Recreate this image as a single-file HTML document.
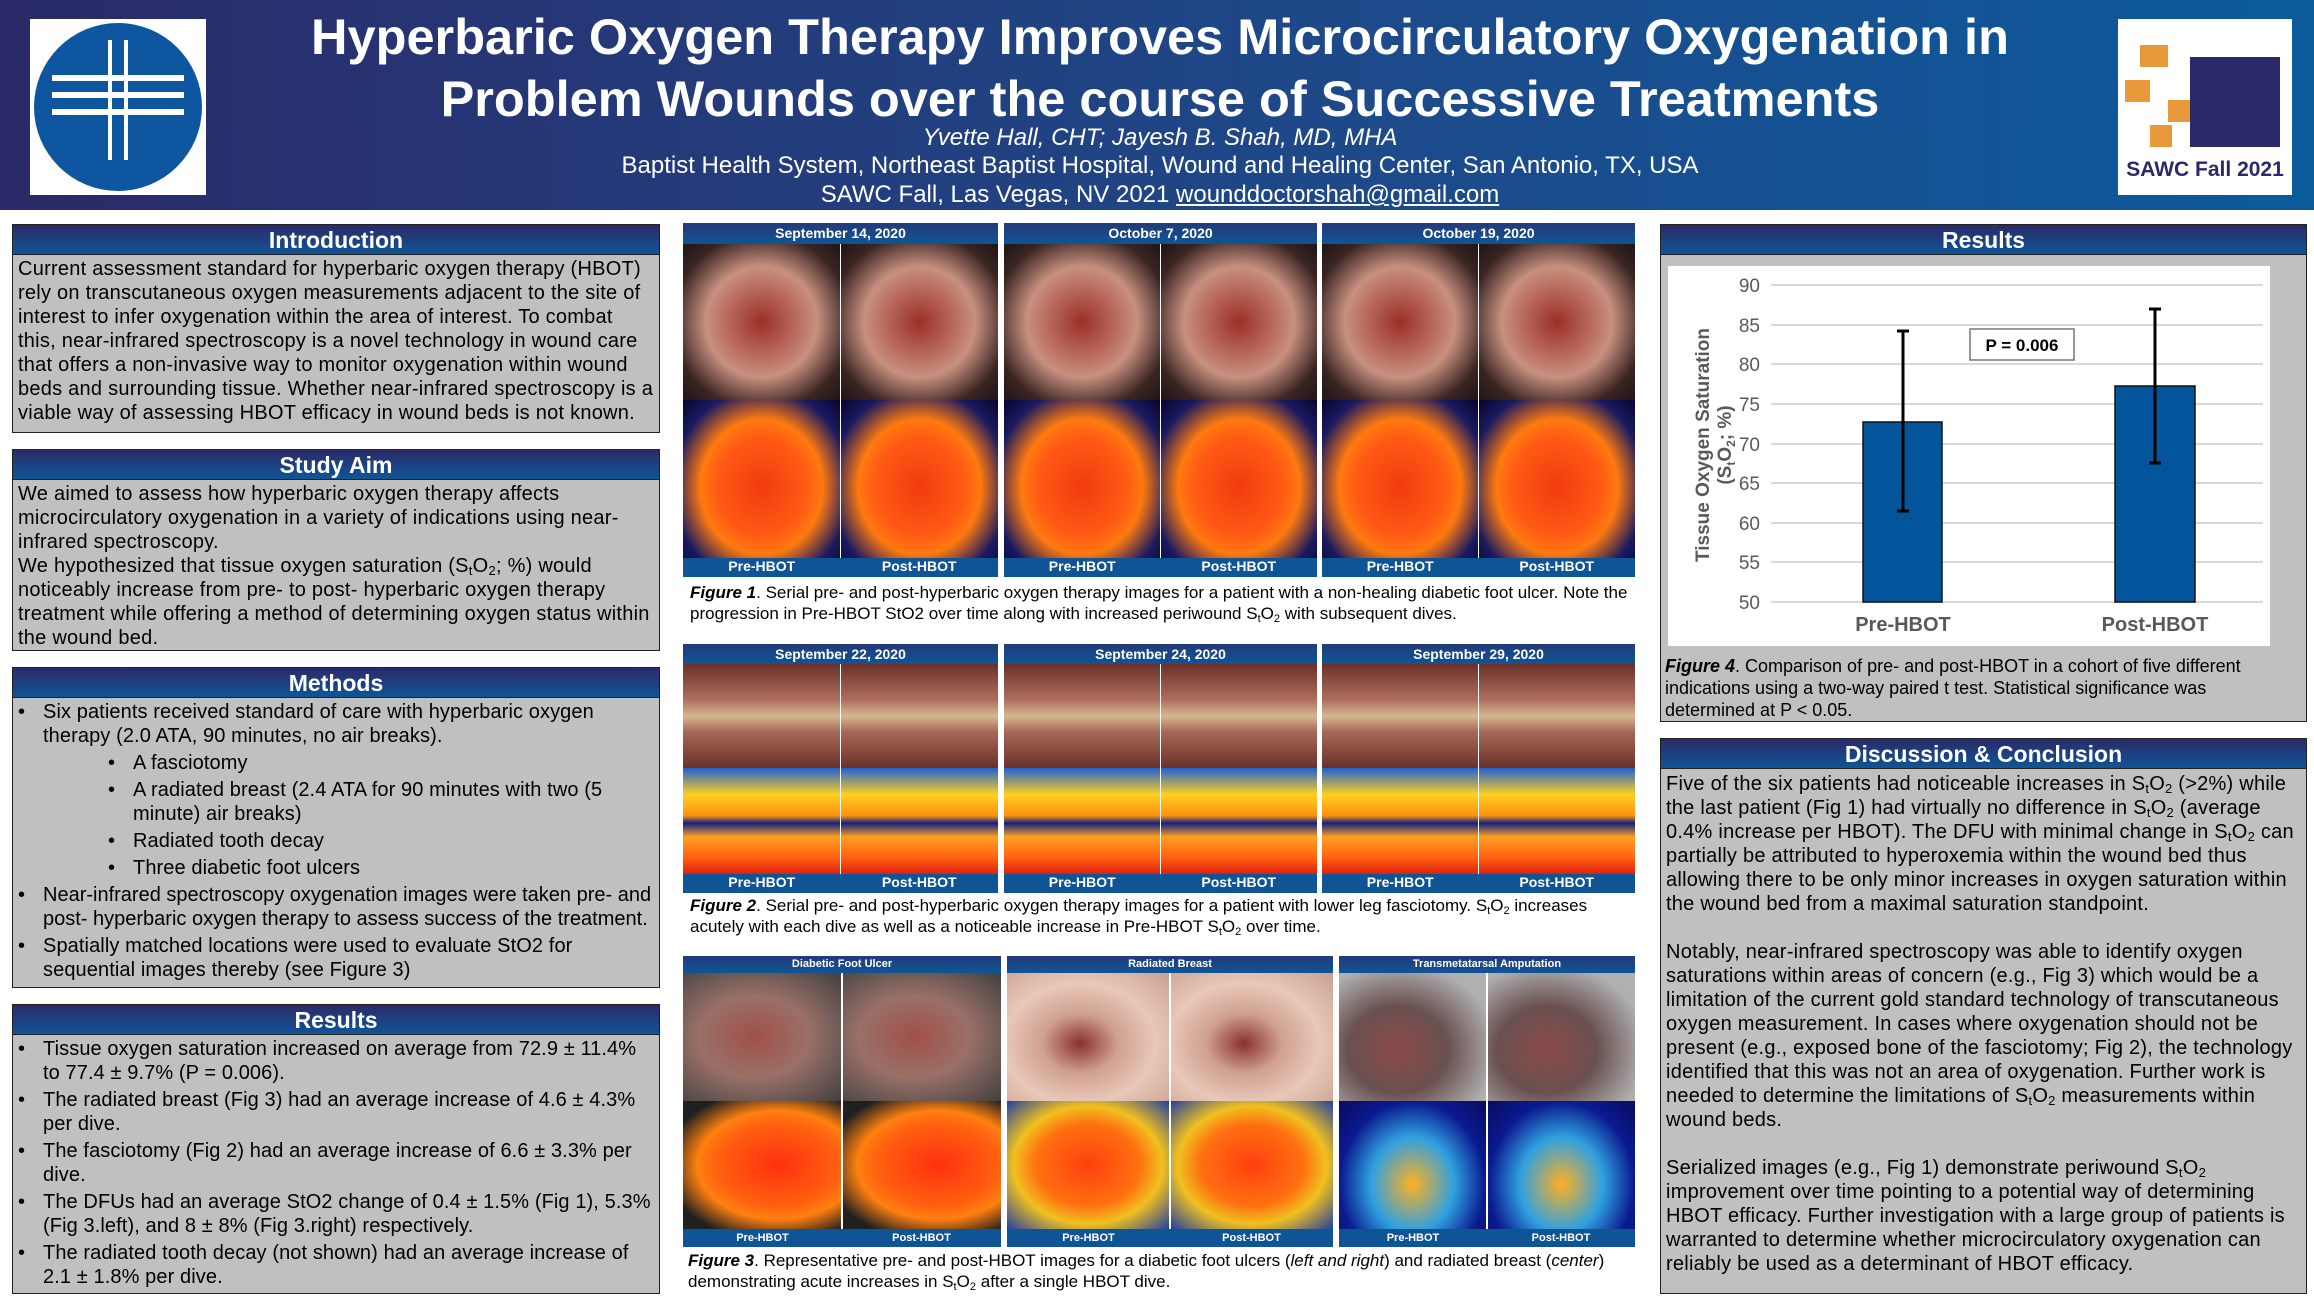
<!DOCTYPE html>
<html><head><meta charset="utf-8">
<style>
*{margin:0;padding:0;box-sizing:border-box}
body{width:2314px;height:1302px;position:relative;background:#fff;font-family:"Liberation Sans",Arial,sans-serif;overflow:hidden;color:#000}
.abs{position:absolute}
.hdr{position:absolute;left:0;top:0;width:2314px;height:210px;background:linear-gradient(90deg,#2b2a68 0%,#1d4a8a 60%,#0b5a9c 100%)}
.title{position:absolute;left:250px;width:1820px;top:6px;text-align:center;color:#fff;font-weight:bold;font-size:50.5px;line-height:62px}
.sub{position:absolute;left:260px;width:1800px;text-align:center;color:#fff;font-size:24px;line-height:27px}
.panel{position:absolute;background:#c0c0c0;border:1.5px solid #222}
.ph{height:30px;background:linear-gradient(180deg,#2b2a68,#0f5596);color:#fff;font-weight:bold;font-size:23px;text-align:center;line-height:30px;border-bottom:1.5px solid #222}
.pb{font-size:20px;line-height:24px;padding:2px 5px;letter-spacing:0.25px}
ul{list-style:none;letter-spacing:0.1px}
li{position:relative;padding-left:30px}
li:before{content:"•";position:absolute;left:5px}
li.s{padding-left:120px}
li.s:before{left:95px}
.cap{position:absolute;font-size:17px;line-height:21px}
.dh{position:absolute;background:linear-gradient(180deg,#233a78,#0f5596);color:#fff;font-weight:bold;font-size:14px;text-align:center}
.lb{position:absolute;background:#0f5596;color:#fff;font-weight:bold;font-size:14px;display:flex}
.lb span{flex:1;text-align:center}
.ph1{position:absolute;background:radial-gradient(ellipse at 50% 50%,#9a3028 0%,#b8685a 30%,#c89080 50%,#3a2422 80%,#1e1616 100%)}
.ht1{position:absolute;background:radial-gradient(ellipse at 50% 55%,#f23a10 0%,#ff5a14 40%,#ff7a10 55%,#1a1a60 80%,#050530 100%)}
.ph2{position:absolute;background:linear-gradient(180deg,#6a3028 0%,#b07060 35%,#d4b890 50%,#a86858 65%,#6a3028 100%)}
.ht2{position:absolute;background:linear-gradient(180deg,#2060d0 0%,#ffd020 25%,#ff9010 45%,#102080 52%,#ffa020 65%,#ff6010 85%,#e02010 100%)}
.ph3{position:absolute;background:radial-gradient(ellipse at 45% 50%,#a05048 0%,#9a7068 45%,#404040 100%)}
.ht3{position:absolute;background:radial-gradient(ellipse at 50% 50%,#ff4010 0%,#ff7010 45%,#f0c020 65%,#2040a0 100%)}
sub{font-size:65%;vertical-align:-3px;line-height:0}
</style></head><body>
<div class="hdr"></div>
<div class="abs" style="left:30px;top:19px;width:176px;height:176px;background:#fff"></div>
<div class="abs" style="left:34px;top:23px;width:168px;height:168px;border-radius:50%;background:#0e57a0"></div>
<div class="abs" style="left:108px;top:40px;width:20px;height:120px;border-left:4px solid #fff;border-right:4px solid #fff"></div>
<div class="abs" style="left:52px;top:75px;width:132px;height:40px;border-top:6px solid #fff;border-bottom:6px solid #fff"></div>
<div class="abs" style="left:52px;top:92px;width:132px;height:6px;background:#fff"></div>
<div class="abs" style="left:2118px;top:19px;width:174px;height:176px;background:#fff"></div>
<div class="abs" style="left:2190px;top:57px;width:90px;height:90px;background:#2b2a68"></div>
<div class="abs" style="left:2140px;top:45px;width:28px;height:22px;background:#e8993a"></div>
<div class="abs" style="left:2125px;top:80px;width:25px;height:22px;background:#e8993a"></div>
<div class="abs" style="left:2168px;top:100px;width:22px;height:22px;background:#e8993a"></div>
<div class="abs" style="left:2150px;top:125px;width:22px;height:22px;background:#e8993a"></div>
<div class="abs" style="left:2118px;top:158px;width:174px;text-align:center;font-weight:bold;font-size:21px;color:#2b2a68">SAWC Fall 2021</div>
<div class="title">Hyperbaric Oxygen Therapy Improves Microcirculatory Oxygenation in<br>Problem Wounds over the course of Successive Treatments</div>
<div class="sub" style="top:124px;font-style:italic">Yvette Hall, CHT; Jayesh B. Shah, MD, MHA</div>
<div class="sub" style="top:152px">Baptist Health System, Northeast Baptist Hospital, Wound and Healing Center, San Antonio, TX, USA</div>
<div class="sub" style="top:181px">SAWC Fall, Las Vegas, NV 2021 <u>wounddoctorshah@gmail.com</u></div>

<div class="panel" style="left:12px;top:224px;width:648px;height:209px"><div class="ph">Introduction</div><div class="pb">Current assessment standard for hyperbaric oxygen therapy (HBOT) rely on transcutaneous oxygen measurements adjacent to the site of interest to infer oxygenation within the area of interest. To combat this, near-infrared spectroscopy is a novel technology in wound care that offers a non-invasive way to monitor oxygenation within wound beds and surrounding tissue. Whether near-infrared spectroscopy is a viable way of assessing HBOT efficacy in wound beds is not known.</div></div>
<div class="panel" style="left:12px;top:449px;width:648px;height:202px"><div class="ph">Study Aim</div><div class="pb">We aimed to assess how hyperbaric oxygen therapy affects microcirculatory oxygenation in a variety of indications using near-infrared spectroscopy.<br>We hypothesized that tissue oxygen saturation (S<sub>t</sub>O<sub>2</sub>; %) would noticeably increase from pre- to post- hyperbaric oxygen therapy treatment while offering a method of determining oxygen status within the wound bed.</div></div>
<div class="panel" style="left:12px;top:667px;width:648px;height:321px"><div class="ph">Methods</div><div class="pb" style="padding-left:0"><ul>
<li>Six patients received standard of care with hyperbaric oxygen therapy (2.0 ATA, 90 minutes, no air breaks).</li>
<li class="s" style="margin-top:3px">A fasciotomy</li>
<li class="s" style="margin-top:3px">A radiated breast (2.4 ATA for 90 minutes with two (5 minute) air breaks)</li>
<li class="s" style="margin-top:3px">Radiated tooth decay</li>
<li class="s" style="margin-top:3px">Three diabetic foot ulcers</li>
<li style="margin-top:3px;letter-spacing:0">Near-infrared spectroscopy oxygenation images were taken pre- and post- hyperbaric oxygen therapy to assess success of the treatment.</li>
<li style="margin-top:3px">Spatially matched locations were used to evaluate StO2 for sequential images thereby (see Figure 3)</li></ul></div></div>
<div class="panel" style="left:12px;top:1004px;width:648px;height:290px"><div class="ph">Results</div><div class="pb" style="padding-left:0"><ul>
<li>Tissue oxygen saturation increased on average from 72.9 ± 11.4% to 77.4 ± 9.7% (P = 0.006).</li>
<li style="margin-top:3px">The radiated breast (Fig 3) had an average increase of 4.6 ± 4.3% per dive.</li>
<li style="margin-top:3px">The fasciotomy (Fig 2) had an average increase of 6.6 ± 3.3% per dive.</li>
<li style="margin-top:3px">The DFUs had an average StO2 change of 0.4 ± 1.5% (Fig 1), 5.3% (Fig 3.left), and 8 ± 8% (Fig 3.right) respectively.</li>
<li style="margin-top:3px">The radiated tooth decay (not shown) had an average increase of 2.1 ± 1.8% per dive.</li></ul></div></div>

<!-- Figure 1 -->
<div class="dh" style="left:683px;top:223px;width:315px;height:21px;line-height:21px">September 14, 2020</div>
<div class="dh" style="left:1004px;top:223px;width:313px;height:21px;line-height:21px">October 7, 2020</div>
<div class="dh" style="left:1322px;top:223px;width:313px;height:21px;line-height:21px">October 19, 2020</div>
<div class="ph1" style="left:683px;top:244px;width:157px;height:156px"></div><div class="ph1" style="left:841px;top:244px;width:157px;height:156px"></div>
<div class="ph1" style="left:1004px;top:244px;width:156px;height:156px"></div><div class="ph1" style="left:1161px;top:244px;width:156px;height:156px"></div>
<div class="ph1" style="left:1322px;top:244px;width:156px;height:156px"></div><div class="ph1" style="left:1479px;top:244px;width:156px;height:156px"></div>
<div class="ht1" style="left:683px;top:400px;width:157px;height:158px"></div><div class="ht1" style="left:841px;top:400px;width:157px;height:158px"></div>
<div class="ht1" style="left:1004px;top:400px;width:156px;height:158px"></div><div class="ht1" style="left:1161px;top:400px;width:156px;height:158px"></div>
<div class="ht1" style="left:1322px;top:400px;width:156px;height:158px"></div><div class="ht1" style="left:1479px;top:400px;width:156px;height:158px"></div>
<div class="lb" style="left:683px;top:558px;width:315px;height:19px"><span>Pre-HBOT</span><span>Post-HBOT</span></div>
<div class="lb" style="left:1004px;top:558px;width:313px;height:19px"><span>Pre-HBOT</span><span>Post-HBOT</span></div>
<div class="lb" style="left:1322px;top:558px;width:313px;height:19px"><span>Pre-HBOT</span><span>Post-HBOT</span></div>
<div class="cap" style="left:690px;top:582px;width:940px"><b><i>Figure 1</i></b>. Serial pre- and post-hyperbaric oxygen therapy images for a patient with a non-healing diabetic foot ulcer. Note the progression in Pre-HBOT StO2 over time along with increased periwound S<sub>t</sub>O<sub>2</sub> with subsequent dives.</div>

<!-- Figure 2 -->
<div class="dh" style="left:683px;top:644px;width:315px;height:20px;line-height:20px">September 22, 2020</div>
<div class="dh" style="left:1004px;top:644px;width:313px;height:20px;line-height:20px">September 24, 2020</div>
<div class="dh" style="left:1322px;top:644px;width:313px;height:20px;line-height:20px">September 29, 2020</div>
<div class="ph2" style="left:683px;top:664px;width:157px;height:104px"></div><div class="ph2" style="left:841px;top:664px;width:157px;height:104px"></div>
<div class="ph2" style="left:1004px;top:664px;width:156px;height:104px"></div><div class="ph2" style="left:1161px;top:664px;width:156px;height:104px"></div>
<div class="ph2" style="left:1322px;top:664px;width:156px;height:104px"></div><div class="ph2" style="left:1479px;top:664px;width:156px;height:104px"></div>
<div class="ht2" style="left:683px;top:768px;width:157px;height:106px"></div><div class="ht2" style="left:841px;top:768px;width:157px;height:106px"></div>
<div class="ht2" style="left:1004px;top:768px;width:156px;height:106px"></div><div class="ht2" style="left:1161px;top:768px;width:156px;height:106px"></div>
<div class="ht2" style="left:1322px;top:768px;width:156px;height:106px"></div><div class="ht2" style="left:1479px;top:768px;width:156px;height:106px"></div>
<div class="lb" style="left:683px;top:874px;width:315px;height:19px"><span>Pre-HBOT</span><span>Post-HBOT</span></div>
<div class="lb" style="left:1004px;top:874px;width:313px;height:19px"><span>Pre-HBOT</span><span>Post-HBOT</span></div>
<div class="lb" style="left:1322px;top:874px;width:313px;height:19px"><span>Pre-HBOT</span><span>Post-HBOT</span></div>
<div class="cap" style="left:690px;top:895px;width:940px"><b><i>Figure 2</i></b>. Serial pre- and post-hyperbaric oxygen therapy images for a patient with lower leg fasciotomy. S<sub>t</sub>O<sub>2</sub> increases acutely with each dive as well as a noticeable increase in Pre-HBOT S<sub>t</sub>O<sub>2</sub> over time.</div>

<!-- Figure 3 -->
<div class="dh" style="left:683px;top:956px;width:318px;height:17px;line-height:17px;font-size:11px">Diabetic Foot Ulcer</div>
<div class="dh" style="left:1007px;top:956px;width:326px;height:17px;line-height:17px;font-size:11px">Radiated Breast</div>
<div class="dh" style="left:1339px;top:956px;width:296px;height:17px;line-height:17px;font-size:11px">Transmetatarsal Amputation</div>
<div class="ph3" style="left:683px;top:973px;width:158px;height:128px"></div><div class="ph3" style="left:843px;top:973px;width:158px;height:128px"></div>
<div class="ph3" style="left:1007px;top:973px;width:162px;height:128px;background:radial-gradient(ellipse at 45% 55%,#8a3030 0%,#d0a090 30%,#e8c8b8 60%,#c8a090 100%)"></div><div class="ph3" style="left:1171px;top:973px;width:162px;height:128px;background:radial-gradient(ellipse at 45% 55%,#8a3030 0%,#d0a090 30%,#e8c8b8 60%,#c8a090 100%)"></div>
<div class="ph3" style="left:1339px;top:973px;width:147px;height:128px;background:radial-gradient(ellipse at 40% 60%,#8a4a48 0%,#6a5050 40%,#b0b0b0 80%)"></div><div class="ph3" style="left:1488px;top:973px;width:147px;height:128px;background:radial-gradient(ellipse at 40% 60%,#8a4a48 0%,#6a5050 40%,#b0b0b0 80%)"></div>
<div class="ht1" style="left:683px;top:1101px;width:158px;height:128px;background:radial-gradient(ellipse at 60% 50%,#ff3010 0%,#ff6010 45%,#ff8010 60%,#202020 85%)"></div><div class="ht1" style="left:843px;top:1101px;width:158px;height:128px;background:radial-gradient(ellipse at 60% 50%,#ff3010 0%,#ff6010 45%,#ff8010 60%,#202020 85%)"></div>
<div class="ht3" style="left:1007px;top:1101px;width:162px;height:128px"></div><div class="ht3" style="left:1171px;top:1101px;width:162px;height:128px"></div>
<div class="ht3" style="left:1339px;top:1101px;width:147px;height:128px;background:radial-gradient(ellipse at 50% 65%,#ffb020 0%,#30a0e0 40%,#0a1a90 70%,#0a0a60 100%)"></div><div class="ht3" style="left:1488px;top:1101px;width:147px;height:128px;background:radial-gradient(ellipse at 50% 65%,#ffb020 0%,#30a0e0 40%,#0a1a90 70%,#0a0a60 100%)"></div>
<div class="lb" style="left:683px;top:1229px;width:318px;height:18px;font-size:11px;line-height:18px"><span>Pre-HBOT</span><span>Post-HBOT</span></div>
<div class="lb" style="left:1007px;top:1229px;width:326px;height:18px;font-size:11px;line-height:18px"><span>Pre-HBOT</span><span>Post-HBOT</span></div>
<div class="lb" style="left:1339px;top:1229px;width:296px;height:18px;font-size:11px;line-height:18px"><span>Pre-HBOT</span><span>Post-HBOT</span></div>
<div class="cap" style="left:688px;top:1250px;width:945px"><b><i>Figure 3</i></b>. Representative pre- and post-HBOT images for a diabetic foot ulcers (<i>left and right</i>) and radiated breast (<i>center</i>) demonstrating acute increases in S<sub>t</sub>O<sub>2</sub> after a single HBOT dive.</div>

<!-- Right column -->
<div class="panel" style="left:1660px;top:224px;width:647px;height:498px"><div class="ph">Results</div>
<div class="cap" style="left:4px;top:430px;width:620px;font-size:18px;line-height:22px"><b><i>Figure 4</i></b>. Comparison of pre- and post-HBOT in a cohort of five different indications using a two-way paired t test. Statistical significance was determined at P &lt; 0.05.</div></div>
<svg class="abs" style="left:0;top:0" width="2314" height="1302">
<rect x="1668" y="266" width="602" height="380" fill="#fff"/>
<g stroke="#d9d9d9" stroke-width="2">
<line x1="1771" x2="2263" y1="285" y2="285"/><line x1="1771" x2="2263" y1="325" y2="325"/><line x1="1771" x2="2263" y1="364" y2="364"/><line x1="1771" x2="2263" y1="404" y2="404"/><line x1="1771" x2="2263" y1="444" y2="444"/><line x1="1771" x2="2263" y1="483" y2="483"/><line x1="1771" x2="2263" y1="523" y2="523"/><line x1="1771" x2="2263" y1="562" y2="562"/><line x1="1771" x2="2263" y1="602" y2="602"/></g>
<g font-family="Liberation Sans" font-size="19" fill="#595959" text-anchor="end">
<text x="1760" y="292">90</text><text x="1760" y="332">85</text><text x="1760" y="371">80</text><text x="1760" y="411">75</text><text x="1760" y="451">70</text><text x="1760" y="490">65</text><text x="1760" y="530">60</text><text x="1760" y="569">55</text><text x="1760" y="609">50</text></g>
<rect x="1863" y="422" width="79" height="180" fill="#02559a" stroke="#111" stroke-width="1.5"/>
<rect x="2115" y="386" width="80" height="216" fill="#02559a" stroke="#111" stroke-width="1.5"/>
<g stroke="#000" stroke-width="3"><line x1="1903" x2="1903" y1="331" y2="511"/><line x1="1897" x2="1909" y1="331" y2="331"/><line x1="1897" x2="1909" y1="511" y2="511"/>
<line x1="2155" x2="2155" y1="309" y2="463"/><line x1="2149" x2="2161" y1="309" y2="309"/><line x1="2149" x2="2161" y1="463" y2="463"/></g>
<rect x="1970" y="329" width="104" height="31" fill="#fff" stroke="#777" stroke-width="1.5"/>
<text x="2022" y="351" font-family="Liberation Sans" font-size="17" font-weight="bold" text-anchor="middle">P = 0.006</text>
<g font-family="Liberation Sans" font-size="20" font-weight="bold" fill="#595959" text-anchor="middle"><text x="1903" y="631">Pre-HBOT</text><text x="2155" y="631">Post-HBOT</text></g>
<g font-family="Liberation Sans" font-size="19" font-weight="bold" fill="#595959" text-anchor="middle">
<text transform="translate(1709,445) rotate(-90)">Tissue Oxygen Saturation</text>
<text transform="translate(1731,445) rotate(-90)">(S<tspan font-size="12" dy="4">t</tspan><tspan dy="-4">O</tspan><tspan font-size="12" dy="4">2</tspan><tspan dy="-4">; %)</tspan></text></g>
</svg>
<div class="panel" style="left:1660px;top:738px;width:647px;height:556px"><div class="ph">Discussion &amp; Conclusion</div><div class="pb" style="padding-top:3px">Five of the six patients had noticeable increases in S<sub>t</sub>O<sub>2</sub> (&gt;2%) while the last patient (Fig 1) had virtually no difference in S<sub>t</sub>O<sub>2</sub> (average 0.4% increase per HBOT). The DFU with minimal change in S<sub>t</sub>O<sub>2</sub> can partially be attributed to hyperoxemia within the wound bed thus allowing there to be only minor increases in oxygen saturation within the wound bed from a maximal saturation standpoint.<br><br>Notably, near-infrared spectroscopy was able to identify oxygen saturations within areas of concern (e.g., Fig 3) which would be a limitation of the current gold standard technology of transcutaneous oxygen measurement. In cases where oxygenation should not be present (e.g., exposed bone of the fasciotomy; Fig 2), the technology identified that this was not an area of oxygenation. Further work is needed to determine the limitations of S<sub>t</sub>O<sub>2</sub> measurements within wound beds.<br><br>Serialized images (e.g., Fig 1) demonstrate periwound S<sub>t</sub>O<sub>2</sub> improvement over time pointing to a potential way of determining HBOT efficacy. Further investigation with a large group of patients is warranted to determine whether microcirculatory oxygenation can reliably be used as a determinant of HBOT efficacy.</div></div>
</body></html>
